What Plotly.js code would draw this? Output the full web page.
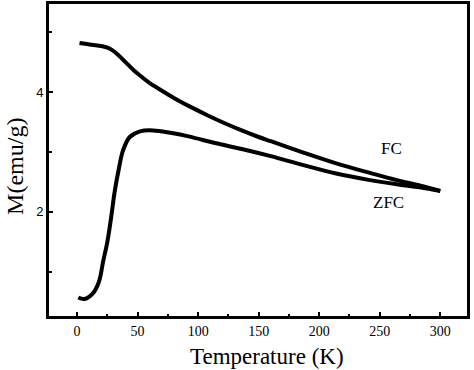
<!DOCTYPE html>
<html>
<head>
<meta charset="utf-8">
<script src="https://cdn.plot.ly/plotly-3.0.1.min.js"></script>
<style>html,body{margin:0;padding:0;background:#fff;}#chart{width:474px;height:370px;}</style>
</head>
<body>
<div id="chart"></div>
<script>
// Field-cooled magnetization (FC)
const fcTemp = [2, 12, 20, 25, 29, 34, 40, 47, 53, 60, 67, 81, 95, 108, 122, 136, 150, 160, 187, 214, 242, 264, 283, 300];
const fcM    = [4.82, 4.79, 4.77, 4.74, 4.70, 4.62, 4.50, 4.36, 4.26, 4.15, 4.06, 3.89, 3.74, 3.61, 3.48, 3.36, 3.25, 3.18, 2.99, 2.81, 2.65, 2.53, 2.44, 2.35];
// Zero-field-cooled magnetization (ZFC)
const zfcTemp = [1, 6, 13, 18, 21.5, 25, 28, 31, 34.5, 38, 43.5, 52, 63, 77, 92, 114, 136, 160, 187, 214, 242, 264, 283, 300];
const zfcM    = [0.57, 0.545, 0.64, 0.83, 1.17, 1.50, 1.89, 2.33, 2.72, 3.03, 3.25, 3.345, 3.36, 3.32, 3.26, 3.15, 3.05, 2.93, 2.78, 2.64, 2.53, 2.46, 2.41, 2.35];
// Text
const xTitle = "Temperature (K)";
const yTitle = "M(emu/g)";
const curveLabels = ["FC", "ZFC"];
const labelPos = [[260, 3.06], [257.5, 2.16]];

const serif = "Liberation Serif, Times New Roman, serif";
const lineStyle = {color: "#000", width: 4, shape: "spline", smoothing: 1};

const traces = [
  {x: fcTemp, y: fcM, mode: "lines", name: curveLabels[0], line: lineStyle, hoverinfo: "x+y"},
  {x: zfcTemp, y: zfcM, mode: "lines", name: curveLabels[1], line: lineStyle, hoverinfo: "x+y"}
];

const layout = {
  width: 474, height: 370,
  margin: {l: 49, r: 7, t: 3.5, b: 54},
  paper_bgcolor: "#fff", plot_bgcolor: "#fff",
  showlegend: false,
  xaxis: {
    range: [-23.2, 322.1],
    tickvals: [0, 50, 100, 150, 200, 250, 300],
    ticks: "inside", ticklen: 4, tickwidth: 2, tickcolor: "#000",
    minor: {tickvals: [25, 75, 125, 175, 225, 275], ticks: "inside", ticklen: 2, tickwidth: 2, tickcolor: "#000"},
    showline: true, linewidth: 3, linecolor: "#000", mirror: true,
    showgrid: false, zeroline: false,
    tickfont: {family: serif, size: 14, color: "#000"}
  },
  yaxis: {
    range: [0.262, 5.47],
    tickvals: [2, 4],
    ticks: "inside", ticklen: 4, tickwidth: 2, tickcolor: "#000",
    minor: {tickvals: [1, 3, 5], ticks: "inside", ticklen: 3, tickwidth: 2, tickcolor: "#000"},
    showline: true, linewidth: 3, linecolor: "#000", mirror: true,
    showgrid: false, zeroline: false,
    tickfont: {family: "Liberation Sans, Arial, sans-serif", size: 13, color: "#000"}
  },
  annotations: [
    {x: labelPos[0][0], y: labelPos[0][1], xref: "x", yref: "y", text: curveLabels[0], showarrow: false,
     font: {family: serif, size: 17, color: "#000"}},
    {x: labelPos[1][0], y: labelPos[1][1], xref: "x", yref: "y", text: curveLabels[1], showarrow: false,
     font: {family: serif, size: 17, color: "#000"}},
    {x: 156.8, y: -0.13, xref: "x", yref: "paper", yanchor: "middle", text: xTitle, showarrow: false,
     font: {family: serif, size: 23, color: "#000"}},
    {x: -0.08, y: 2.76, xref: "paper", yref: "y", xanchor: "center", text: yTitle, textangle: -90, showarrow: false,
     font: {family: serif, size: 24, color: "#000"}}
  ]
};

Plotly.newPlot("chart", traces, layout, {staticPlot: true, displayModeBar: false});
</script>
</body>
</html>
